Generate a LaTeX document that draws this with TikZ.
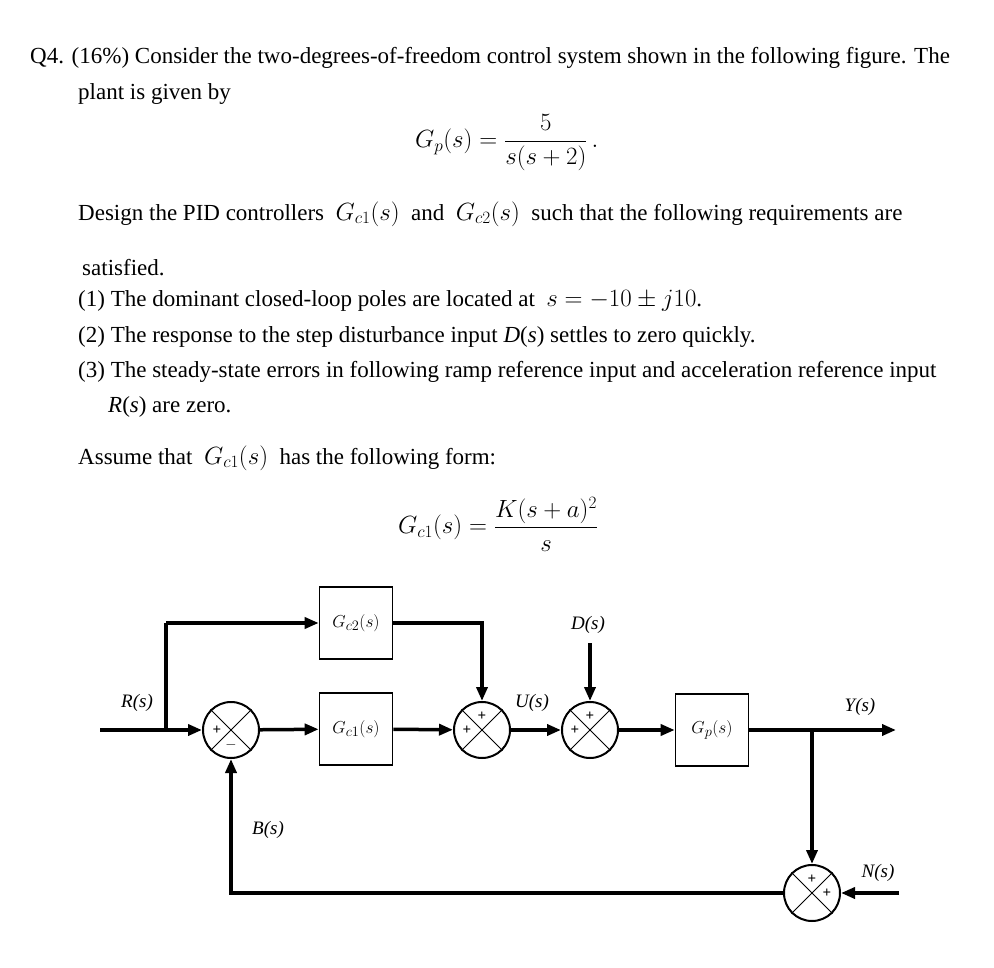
\documentclass[tikz,border=0pt]{standalone}
\usepackage{amsmath}
\usepackage{fontspec}
\setmainfont{Liberation Serif}
\usetikzlibrary{arrows.meta}
\begin{document}
\begin{tikzpicture}[x=1pt,y=-1pt,
  txt/.style={anchor=west,inner sep=0pt,font=\fontsize{23}{27}\selectfont},
  lbl/.style={inner sep=0pt,font=\fontsize{19}{22}\selectfont\itshape},
  blk/.style={draw,line width=1.6pt,minimum width=73pt,minimum height=72pt,inner sep=0pt,font=\fontsize{19}{22}\selectfont},
  sj/.style={draw,circle,line width=2pt,minimum size=56pt,inner sep=0pt},
  sg/.style={inner sep=0pt,font=\fontsize{15}{16}\selectfont\bfseries},
  w/.style={line width=3.5pt,-{Triangle[length=14pt,width=11pt]}},
  wl/.style={line width=3.5pt}]
\useasboundingbox (0,0) rectangle (994,968);
% text
\node[txt] (t1) at (30,58) {Q4. (16\%) Consider the two-degrees-of-freedom control system shown in the following figure. The};
\node[txt] (t2) at (78,94) {plant is given by};
\node[txt] (e1) at (415,143) {$G_p(s)=\dfrac{5}{s(s+2)}\,.$};
\node[txt] (t3) at (78,214) {Design the PID controllers \ $G_{c1}(s)$ \ and \ $G_{c2}(s)$ \ such that the following requirements are};
\node[txt] (t4) at (82,268) {satisfied.};
\node[txt] (t5) at (78,301) {(1) The dominant closed-loop poles are located at \ $s=-10\pm j10$.};
\node[txt] (t6) at (78,337) {(2) The response to the step disturbance input \textit{D}(\textit{s}) settles to zero quickly.};
\node[txt] (t7) at (78,372) {(3) The steady-state errors in following ramp reference input and acceleration reference input};
\node[txt] (t8) at (108,407) {\textit{R}(\textit{s}) are zero.};
\node[txt] (t9) at (78,458) {Assume that \ $G_{c1}(s)$ \ has the following form:};
\node[txt] (e2) at (398,524) {$G_{c1}(s)=\dfrac{K(s+a)^2}{s}$};
% diagram
\node[blk] (gc2) at (356,623) {$G_{c2}(s)$};
\node[blk] (gc1) at (356,729) {$G_{c1}(s)$};
\node[blk] (gp) at (712,730) {$G_p(s)$};
\node[sj] (s1) at (231,730) {};
\node[sj] (s2) at (482,730) {};
\node[sj] (s3) at (590,730) {};
\node[sj] (s4) at (812,893) {};
\foreach \n in {s1,s2,s3,s4}{
  \draw[line width=1pt] (\n.north west) -- (\n.south east) (\n.north east) -- (\n.south west);}
\node[sg] (p1) at ([xshift=-14pt]s1.center) {+};
\node[sg] (m1) at ([yshift=-15pt]s1.center) {$-$};
\node[sg] (p2a) at ([yshift=14pt]s2.center) {+};
\node[sg] (p2b) at ([xshift=-15pt]s2.center) {+};
\node[sg] (p3a) at ([yshift=14pt]s3.center) {+};
\node[sg] (p3b) at ([xshift=-15pt]s3.center) {+};
\node[sg] (p4a) at ([yshift=14pt]s4.center) {+};
\node[sg] (p4b) at ([xshift=15pt]s4.center) {+};
\coordinate (rin) at (100,730);
\coordinate (rb) at (166,730);
\coordinate (rt) at (166,623);
\coordinate (g2c) at (482,623);
\coordinate (dtop) at (590,643);
\coordinate (yb) at (812,730);
\coordinate (yout) at (896,730);
\coordinate (nin) at (899,893);
\coordinate (fb) at (231,893);
\draw[w] (rin) -- (s1);
\draw[wl] (rb) -- (rt);
\draw[w] (rt) -- (gc2);
\draw[w] (gc2) -- (g2c) -- (s2);
\draw[w] (s1) -- (gc1);
\draw[w] (gc1) -- (s2);
\draw[w] (s2) -- (s3);
\draw[w] (dtop) -- (s3);
\draw[w] (s3) -- (gp);
\draw[w] (gp) -- (yout);
\draw[w] (yb) -- (s4);
\draw[w] (nin) -- (s4);
\draw[w] (s4) -- (fb) -- (s1);
\node[lbl] (lr) at (137,703) {R(s)};
\node[lbl] (lu) at (532,703) {U(s)};
\node[lbl] (ly) at (860,707) {Y(s)};
\node[lbl] (lb) at (268,830) {B(s)};
\node[lbl] (ln) at (878,873) {N(s)};
\node[lbl] (ld) at (588,625) {D(s)};
\end{tikzpicture}
\end{document}
